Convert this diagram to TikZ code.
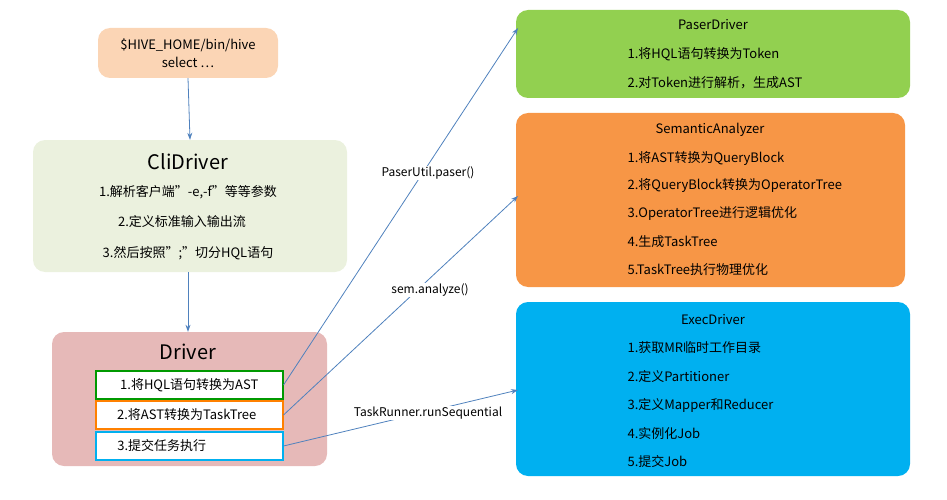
\documentclass[tikz,border=0pt]{standalone}
\usepackage{fontspec}
\setmainfont{Noto Sans CJK SC}
\usetikzlibrary{arrows.meta}
\definecolor{peach}{HTML}{FBD5B5}
\definecolor{lgreen}{HTML}{EBF1DE}
\definecolor{pink}{HTML}{E6B9B8}
\definecolor{grn}{HTML}{92D050}
\definecolor{org}{HTML}{F79646}
\definecolor{blu}{HTML}{00B0F0}
\definecolor{ln}{HTML}{4F81BD}
\tikzset{
 box/.style={rounded corners=12pt, draw=none, inner sep=0pt},
 txt/.style={font=\fontsize{13}{15}\selectfont, anchor=center},
 ttl/.style={font=\fontsize{13}{15}\selectfont},
 big/.style={font=\fontsize{20}{22}\selectfont},
 inner/.style={draw, line width=1.5pt, fill=white, minimum width=187pt, minimum height=28pt, font=\fontsize{13}{15}\selectfont, inner sep=0pt},
 arr/.style={ln, line width=0.8pt, -{Stealth[length=7pt,width=5pt]}},
 lbl/.style={font=\fontsize{12}{14}\selectfont, fill=white, inner sep=1pt}
}
\begin{document}
\begin{tikzpicture}[x=1pt,y=-1pt]
\useasboundingbox (0,0) rectangle (947,500);
% hive
\node[box, fill=peach, minimum width=180pt, minimum height=50pt, align=center, font=\fontsize{13}{18}\selectfont] (hive) at (188,53) {\$HIVE\_HOME/bin/hive\\select …};
% CliDriver
\node[box, fill=lgreen, minimum width=314pt, minimum height=132pt] (cli) at (190,206) {};
\node[big] (clit) at (188,162) {CliDriver};
\node[txt] (c1) at (188,192) {1.解析客户端”-e,-f”等等参数};
\node[txt] (c2) at (182,222) {2.定义标准输入输出流};
\node[txt] (c3) at (188,253) {3.然后按照”;”切分HQL语句};
% Driver
\node[box, fill=pink, minimum width=275pt, minimum height=134pt] (drv) at (189.5,399) {};
\node[big] (drvt) at (188,352) {Driver};
\node[inner, draw=green!60!black, anchor=west] (d1) at (95,385) {1.将HQL语句转换为AST};
\node[inner, draw=orange, anchor=west] (d2) at (95,415) {2.将AST转换为TaskTree\hspace*{5pt}};
\node[inner, draw=blu, anchor=west] (d3) at (95,446) {3.提交任务执行\hspace*{55pt}};
% PaserDriver
\node[box, fill=grn, minimum width=394pt, minimum height=88pt] (pd) at (713,54) {};
\node[ttl] (pdt) at (713,25) {PaserDriver};
\node[txt, anchor=west] (p1) at (624,54) {1.将HQL语句转换为Token};
\node[txt, anchor=west] (p2) at (624,83) {2.对Token进行解析，生成AST};
% Semantic
\node[box, fill=org, minimum width=389pt, minimum height=174pt] (sa) at (710.5,200) {};
\node[ttl] (sat) at (710,130) {SemanticAnalyzer};
\node[txt, anchor=west] (s1) at (624,159) {1.将AST转换为QueryBlock};
\node[txt, anchor=west] (s2) at (624,186) {2.将QueryBlock转换为OperatorTree};
\node[txt, anchor=west] (s3) at (624,214) {3.OperatorTree进行逻辑优化};
\node[txt, anchor=west] (s4) at (624,242) {4.生成TaskTree};
\node[txt, anchor=west] (s5) at (624,270) {5.TaskTree执行物理优化};
% ExecDriver
\node[box, fill=blu, minimum width=394pt, minimum height=174pt] (ed) at (713,389) {};
\node[ttl] (edt) at (713,320) {ExecDriver};
\node[txt, anchor=west] (e1) at (624,348) {1.获取MR临时工作目录};
\node[txt, anchor=west] (e2) at (624,377) {2.定义Partitioner};
\node[txt, anchor=west] (e3) at (624,405) {3.定义Mapper和Reducer};
\node[txt, anchor=west] (e4) at (624,434) {4.实例化Job};
\node[txt, anchor=west] (e5) at (624,462) {5.提交Job};
% connectors
\coordinate (pin) at (518,28);
\coordinate (sin) at (518,196);
\coordinate (ein) at (518,390);
\draw[arr] (hive.south) -- (cli.north);
\draw[arr] (cli.south -| hive.south) -- (drv.north -| hive.south);
\draw[arr] (d1.east) -- (pin);
\draw[arr] (d2.east) -- (sin);
\draw[arr] (d3.east) -- (ein);
\node[lbl] (l1) at (428,173) {PaserUtil.paser()};
\node[lbl] (l2) at (430,290) {sem.analyze()};
\node[lbl] (l3) at (428,413) {TaskRunner.runSequential};
\end{tikzpicture}
\end{document}
